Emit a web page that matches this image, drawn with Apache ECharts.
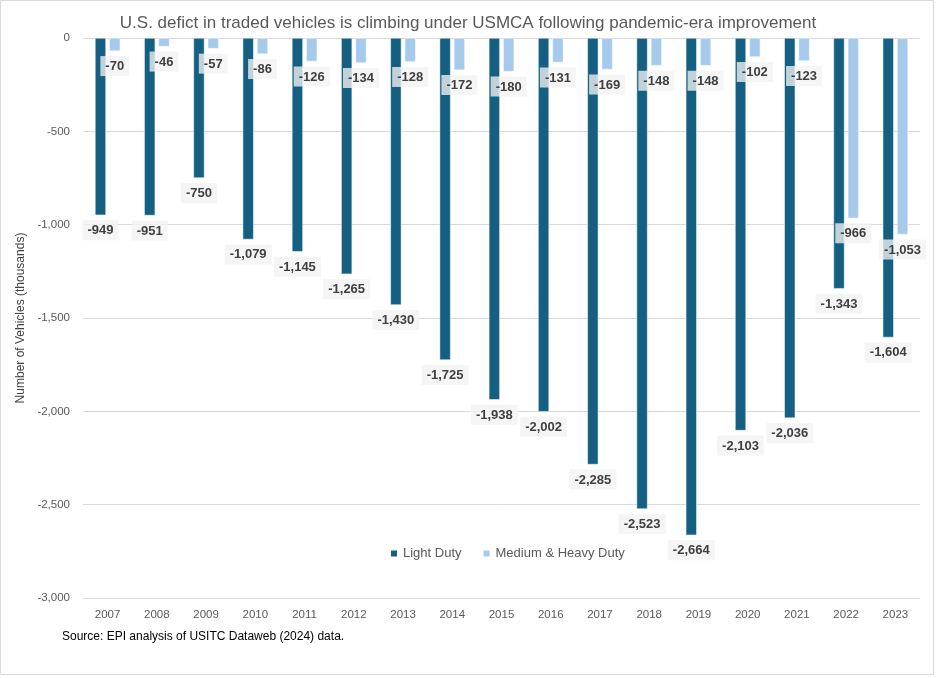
<!DOCTYPE html>
<head>
    <meta charset="utf-8">
    <title>ECharts</title>
</head>
<body style="margin:0">
    <div id="main" style="width:936px;height:678px"></div>
    <script src="https://cdn.jsdelivr.net/npm/echarts@6/dist/echarts.min.js"></script>
    <script type="text/javascript">
var myChart = echarts.init(document.getElementById('main'));

var years = ['2007', '2008', '2009', '2010', '2011', '2012', '2013', '2014', '2015',
    '2016', '2017', '2018', '2019', '2020', '2021', '2022', '2023'];
var lightDuty = [-949, -951, -750, -1079, -1145, -1265, -1430, -1725, -1938,
    -2002, -2285, -2523, -2664, -2103, -2036, -1343, -1604];
var mediumHeavy = [-70, -46, -57, -86, -126, -134, -128, -172, -180,
    -131, -169, -148, -148, -102, -123, -966, -1053];

var narrow = '"Liberation Sans Narrow", "Liberation Sans", sans-serif';

function fmt(p) {
    return p.value.toLocaleString('en-US');
}

var labelStyle = {
    show: true,
    position: 'bottom',
    distance: 5,
    formatter: fmt,
    fontFamily: '"Liberation Sans", Arial, sans-serif',
    fontWeight: 'bold',
    fontSize: 13,
    color: '#404040',
    backgroundColor: 'rgba(242,242,242,0.78)',
    padding: [4, 5, 3, 5]
};

option = {
    animation: false,
    backgroundColor: '#fff',
    title: {
        text: 'U.S. defict in traded vehicles is climbing under USMCA following pandemic-era improvement',
        left: 'center',
        top: 10,
        textStyle: {
            fontFamily: narrow,
            fontWeight: 'normal',
            fontSize: 17,
            color: '#595959'
        }
    },
    legend: {
        left: 384,
        top: 542,
        icon: 'rect',
        itemWidth: 8,
        itemHeight: 8,
        itemGap: 20,
        textStyle: {
            fontFamily: narrow,
            fontSize: 13,
            color: '#595959'
        },
        data: ['Light Duty', 'Medium & Heavy Duty']
    },
    grid: {
        left: 83,
        right: 16,
        top: 38,
        bottom: 80
    },
    xAxis: {
        type: 'category',
        data: years,
        position: 'bottom',
        axisLine: { show: false },
        axisTick: { show: false },
        axisLabel: {
            fontFamily: narrow,
            fontSize: 11.5,
            color: '#595959',
            margin: 11
        }
    },
    yAxis: {
        type: 'value',
        min: -3000,
        max: 0,
        interval: 500,
        name: 'Number of Vehicles (thousands)',
        nameLocation: 'middle',
        nameGap: 56,
        nameTextStyle: {
            fontFamily: narrow,
            fontSize: 12,
            color: '#404040'
        },
        axisLabel: {
            fontFamily: narrow,
            fontSize: 11.5,
            color: '#595959',
            margin: 13,
            formatter: function (v) { return v.toLocaleString('en-US'); }
        },
        splitLine: { lineStyle: { color: '#d9d9d9', width: 1 } }
    },
    graphic: [
        {
            type: 'rect',
            shape: { x: 0.5, y: 0.5, width: 933, height: 674 },
            style: { fill: 'none', stroke: '#d9d9d9', lineWidth: 1 },
            silent: true
        },
        {
            type: 'text',
            left: 62,
            top: 631,
            style: {
                text: 'Source: EPI analysis of USITC Dataweb (2024) data.',
                fontFamily: narrow,
                fontSize: 12,
                fill: '#000'
            }
        }
    ],
    series: [
        {
            name: 'Light Duty',
            type: 'bar',
            data: lightDuty,
            barWidth: 11,
            barGap: '30%',
            itemStyle: { color: '#156082', borderColor: '#fff', borderWidth: 0.5 },
            label: labelStyle
        },
        {
            name: 'Medium & Heavy Duty',
            type: 'bar',
            data: mediumHeavy,
            barWidth: 11,
            itemStyle: { color: '#a6caec', borderColor: '#fff', borderWidth: 0.5 },
            label: labelStyle
        }
    ]
};

myChart.setOption(option);
    </script>
</body>
